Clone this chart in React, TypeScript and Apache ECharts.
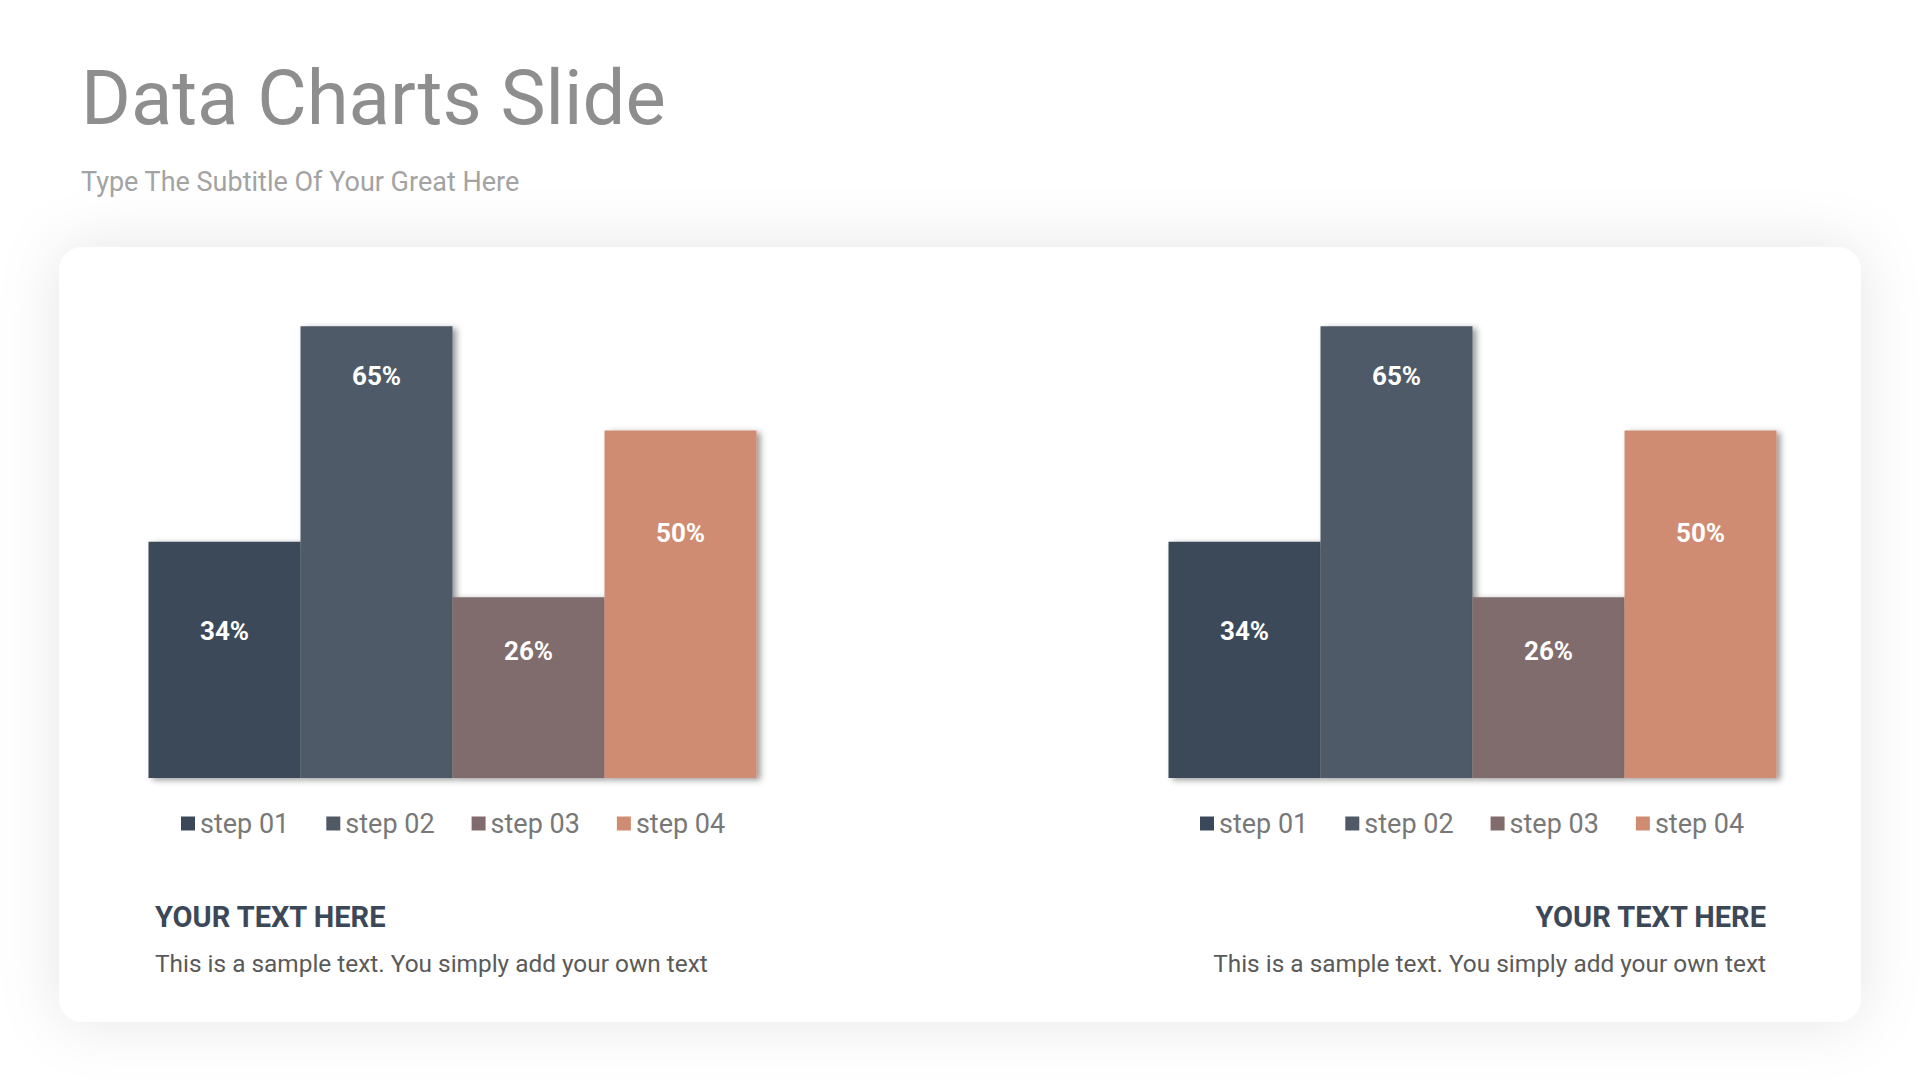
import React, { useEffect, useRef } from 'react';
import * as echarts from 'echarts';

// chart data
const steps = ['step 01', 'step 02', 'step 03', 'step 04'];
const leftValues = [34, 65, 26, 50];
const rightValues = [34, 65, 26, 50];
const stepColors = ['#3a4859', '#505a67', '#806c6d', '#cf8c73'];
// label distance from each bar's top, px
const labelOffsets = [89, 50, 54, 102];

const FONT = 'Roboto, "Noto Sans", sans-serif';

const makeSeries = (values: number[], gridIndex: number) =>
  steps.map((name, i) => ({
    name,
    type: 'bar',
    xAxisIndex: gridIndex,
    yAxisIndex: gridIndex,
    data: [values[i]],
    barWidth: 152,
    barGap: '0%',
    itemStyle: {
      color: stepColors[i],
      shadowColor: 'rgba(0,0,0,0.4)',
      shadowBlur: 6,
      shadowOffsetX: 4,
      shadowOffsetY: 2,
    },
    label: {
      show: true,
      position: ['50%', labelOffsets[i]],
      align: 'center',
      verticalAlign: 'middle',
      formatter: '{c}%',
      color: '#ffffff',
      fontFamily: FONT,
      fontWeight: 'bold',
      fontSize: 26,
    },
  }));

const App: React.FC = () => {
  const chartRef = useRef<HTMLDivElement | null>(null);

  useEffect(() => {
    document.body.style.margin = '0';
    if (!chartRef.current) return;
    const chart = echarts.init(chartRef.current, undefined, { renderer: 'svg' });

    const legendBase = {
      top: 810,
      padding: 0,
      data: steps,
      icon: 'rect',
      itemWidth: 14,
      itemHeight: 14,
      itemGap: 37,
      textStyle: { color: '#787878', fontSize: 27, fontFamily: FONT },
    };

    const option = {
      animation: false,
      backgroundColor: '#ffffff',
      grid: [
        { left: 148, top: 83, width: 609, height: 695 },
        { left: 1168, top: 83, width: 609, height: 695 },
      ],
      xAxis: [0, 1].map((g) => ({
        type: 'category',
        gridIndex: g,
        data: [''],
        show: false,
      })),
      yAxis: [0, 1].map((g) => ({
        type: 'value',
        gridIndex: g,
        min: 0,
        max: 100,
        show: false,
        splitLine: { show: false },
      })),
      legend: [
        { ...legendBase, left: 181 },
        { ...legendBase, left: 1200 },
      ],
      graphic: [
        {
          type: 'rect',
          z: -10,
          shape: { x: 59, y: 247, width: 1802, height: 775, r: 24 },
          style: { fill: '#ffffff', shadowBlur: 60, shadowColor: 'rgba(0,0,0,0.10)' },
        },
        {
          type: 'text',
          x: 81,
          y: 98,
          style: {
            text: 'Data Charts Slide',
            font: `76px ${FONT}`,
            fill: '#8e8e8e',
            verticalAlign: 'middle',
          },
        },
        {
          type: 'text',
          x: 81,
          y: 182,
          style: {
            text: 'Type The Subtitle Of Your Great Here',
            font: `27px ${FONT}`,
            fill: '#a3a3a3',
            verticalAlign: 'middle',
          },
        },
        {
          type: 'text',
          x: 155,
          y: 917,
          style: {
            text: 'YOUR TEXT HERE',
            font: `bold 29px ${FONT}`,
            fill: '#3c4858',
            verticalAlign: 'middle',
          },
        },
        {
          type: 'text',
          x: 155,
          y: 963,
          style: {
            text: 'This is a sample text. You simply add your own text',
            font: `24.4px ${FONT}`,
            fill: '#5a5a5a',
            verticalAlign: 'middle',
          },
        },
        {
          type: 'text',
          x: 1766,
          y: 917,
          style: {
            text: 'YOUR TEXT HERE',
            font: `bold 29px ${FONT}`,
            fill: '#3c4858',
            align: 'right',
            verticalAlign: 'middle',
          },
        },
        {
          type: 'text',
          x: 1766,
          y: 963,
          style: {
            text: 'This is a sample text. You simply add your own text',
            font: `24.4px ${FONT}`,
            fill: '#5a5a5a',
            align: 'right',
            verticalAlign: 'middle',
          },
        },
      ],
      series: [...makeSeries(leftValues, 0), ...makeSeries(rightValues, 1)],
    };

    chart.setOption(option);

    return () => {
      chart.dispose();
    };
  }, []);

  return <div ref={chartRef} style={{ width: '100vw', height: '100vh' }}></div>;
};

export default App;
